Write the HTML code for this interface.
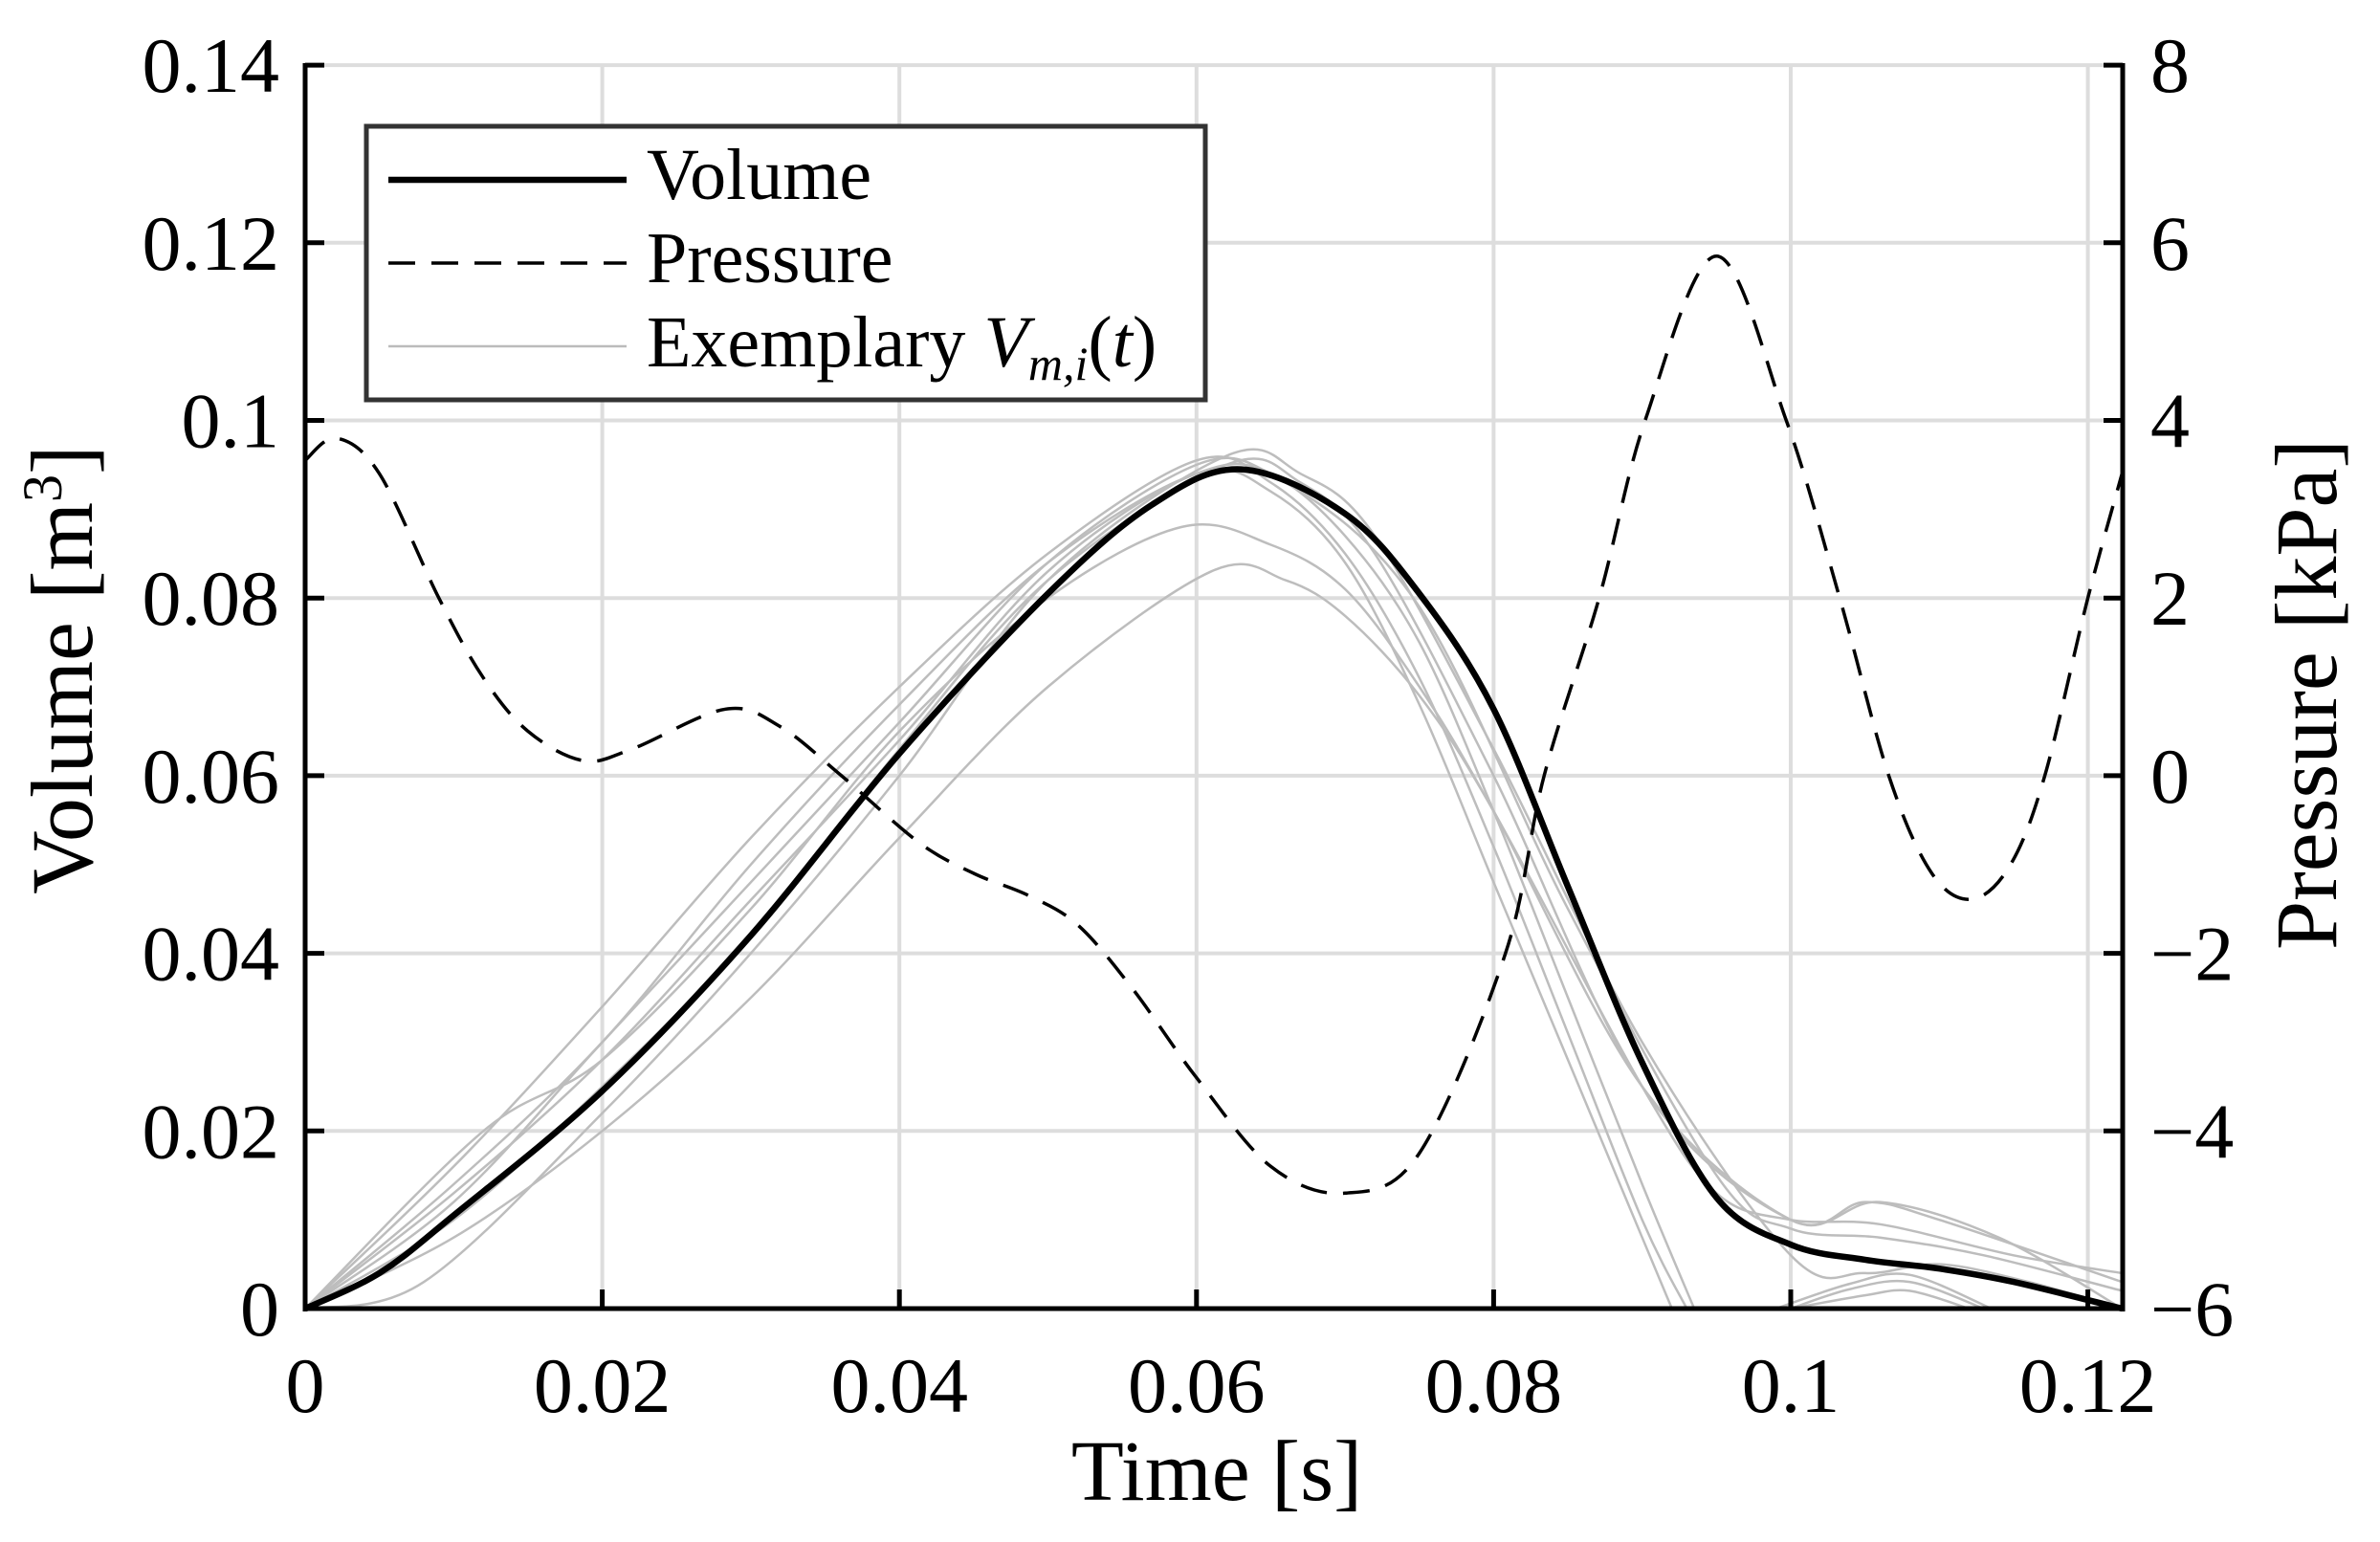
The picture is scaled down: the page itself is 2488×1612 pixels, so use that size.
<!DOCTYPE html>
<html><head><meta charset="utf-8"><style>
html,body{margin:0;padding:0;background:#fff;}
svg{display:block;}
text{font-family:"Liberation Serif",serif;fill:#000;}
</style></head><body>
<svg id="s" width="2488" height="1612" viewBox="0 0 2488 1612" xmlns="http://www.w3.org/2000/svg">
<g id="grid" stroke="#dddddd" stroke-width="4"></g>
<g id="data"></g>
<g id="axes"></g>
<g id="legend">
<rect x="383" y="132" width="877" height="286" fill="#fff" stroke="#333" stroke-width="5"/>
<line x1="406" y1="188" x2="655" y2="188" stroke="#000" stroke-width="6.5"/>
<line x1="406" y1="275" x2="655" y2="275" stroke="#000" stroke-width="3.5" stroke-dasharray="28,17"/>
<line x1="406" y1="362" x2="655" y2="362" stroke="#bbb" stroke-width="2.5"/>
<text x="676" y="208" font-size="76">Volume</text>
<text x="676" y="295" font-size="76">Pressure</text>
<text x="676" y="383" font-size="76">Exemplary <tspan font-style="italic">V</tspan><tspan font-style="italic" font-size="50" dy="14">m,i</tspan><tspan dy="-14">(</tspan><tspan font-style="italic">t</tspan>)</text>
</g>
<text transform="translate(96,700) rotate(-90)" font-size="92" text-anchor="middle">Volume [m<tspan font-size="58" dy="-32">3</tspan><tspan dy="32">]</tspan></text>
<text transform="translate(2442,726) rotate(-90)" font-size="92" text-anchor="middle">Pressure [kPa]</text>
<text x="1272" y="1568" font-size="90" text-anchor="middle">Time [s]</text>
</svg>
<script>
var NS="http://www.w3.org/2000/svg";
function X(t){return 319+t/0.02*310.6;}
function YV(v){return 1368-v/0.02*185.7;}
function YP(p){return 1368-(p+6)/2*185.7;}
function el(p,tag,a){var e=document.createElementNS(NS,tag);for(var k in a)e.setAttribute(k,a[k]);p.appendChild(e);return e;}
function txt(p,x,y,s,anchor,fs){var e=el(p,"text",{x:x,y:y,"text-anchor":anchor,"font-size":fs||82});e.textContent=s;return e;}
var g=document.getElementById("grid"),ax=document.getElementById("axes"),d=document.getElementById("data");
var xl=319,xr=2219,yt=68,yb=1368;
for(var i=0;i<=6;i++){var x=X(i*0.02);el(g,"line",{x1:x,y1:yt,x2:x,y2:yb});}
for(var i=0;i<=7;i++){var y=YV(i*0.02);el(g,"line",{x1:xl,y1:y,x2:xr,y2:y});}
el(ax,"line",{x1:xl,y1:yt-2,x2:xl,y2:yb+3,stroke:"#000","stroke-width":5});
el(ax,"line",{x1:xr,y1:yt-2,x2:xr,y2:yb+3,stroke:"#000","stroke-width":5});
el(ax,"line",{x1:xl-2,y1:yb,x2:xr+2,y2:yb,stroke:"#000","stroke-width":5});
var vl=["0","0.02","0.04","0.06","0.08","0.1","0.12","0.14"];
var pl=["\u22126","\u22124","\u22122","0","2","4","6","8"];
for(var i=0;i<=7;i++){var y=YV(i*0.02);
 el(ax,"line",{x1:xl,y1:y,x2:xl+20,y2:y,stroke:"#000","stroke-width":5});
 el(ax,"line",{x1:xr-20,y1:y,x2:xr,y2:y,stroke:"#000","stroke-width":5});
 txt(ax,292,y+28,vl[i],"end");
 txt(ax,2248,y+28,pl[i],"start");
}
var xlbl=["0","0.02","0.04","0.06","0.08","0.1","0.12"];
for(var i=0;i<=6;i++){var x=X(i*0.02);
 el(ax,"line",{x1:x,y1:yb-20,x2:x,y2:yb,stroke:"#000","stroke-width":5});
 txt(ax,x,1476,xlbl[i],"middle");
}
function cr(pts){
 var s="M"+pts[0][0].toFixed(1)+","+pts[0][1].toFixed(1);
 for(var i=0;i<pts.length-1;i++){
  var p0=pts[i-1]||pts[i],p1=pts[i],p2=pts[i+1],p3=pts[i+2]||pts[i+1];
  var c1x=p1[0]+(p2[0]-p0[0])/6,c1y=p1[1]+(p2[1]-p0[1])/6;
  var c2x=p2[0]-(p3[0]-p1[0])/6,c2y=p2[1]-(p3[1]-p1[1])/6;
  s+=" C"+c1x.toFixed(1)+","+c1y.toFixed(1)+" "+c2x.toFixed(1)+","+c2y.toFixed(1)+" "+p2[0].toFixed(1)+","+p2[1].toFixed(1);
 }
 return s;
}
function pv(a){var r=[];for(var i=0;i<a.length;i+=2)r.push([X(a[i]),YV(a[i+1])]);return r;}
function pp(a){var r=[];for(var i=0;i<a.length;i+=2)r.push([X(a[i]),YP(a[i+1])]);return r;}
var grays=[
[0,0,0.01,0.012,0.02,0.03,0.03,0.048,0.04,0.066,0.05,0.084,0.06,0.095,0.065,0.094,0.07,0.087,0.075,0.075,0.08,0.056,0.085,0.035,0.09,0.014,0.0935,0],
[0,0,0.01,0.016,0.02,0.034,0.03,0.053,0.04,0.07,0.05,0.085,0.06,0.0955,0.065,0.093,0.07,0.085,0.075,0.071,0.08,0.052,0.085,0.031,0.09,0.01,0.093,0],
[0,0,0.012,0.02,0.02,0.028,0.03,0.045,0.04,0.065,0.05,0.08,0.059,0.088,0.065,0.086,0.07,0.081,0.075,0.07,0.08,0.056,0.09,0.025,0.1,0.01,0.105,0.012,0.11,0.01,0.1223,0.003],
[0,0,0.01,0.008,0.02,0.02,0.03,0.035,0.04,0.053,0.05,0.07,0.061,0.083,0.066,0.082,0.07,0.078,0.075,0.069,0.08,0.056,0.09,0.025,0.095,0.013,0.1,0.01,0.106,0.0095,0.115,0.006,0.1223,0.004],
[0,0,0.01,0.01,0.02,0.025,0.03,0.042,0.04,0.063,0.05,0.082,0.062,0.095,0.067,0.093,0.072,0.085,0.08,0.06,0.09,0.025,0.1,0.01,0.106,0.012,0.114,0.008,0.1223,0],
[0,0,0.008,0.003,0.02,0.022,0.03,0.04,0.04,0.06,0.05,0.082,0.062,0.096,0.067,0.094,0.072,0.087,0.08,0.063,0.09,0.03,0.1,0.006,0.105,0.004,0.11,0.005,0.116,0.003,0.1223,0],
[0,0,0.01,0.013,0.02,0.028,0.03,0.046,0.04,0.064,0.05,0.083,0.06,0.094,0.066,0.093,0.075,0.079,0.085,0.045,0.095,0.015,0.1,0.009,0.106,0.008,0.113,0.006,0.1223,0.002],
[0,0,0.01,0.014,0.02,0.03,0.03,0.05,0.04,0.068,0.05,0.084,0.06,0.094,0.065,0.092,0.07,0.084,0.075,0.068,0.08,0.048,0.085,0.028,0.09,0.008,0.092,0],
[0.1,0,0.104,0.0022,0.108,0.003,0.113,0],
[0.099,0,0.104,0.0028,0.108,0.0038,0.1135,0],
[0.1,0,0.105,0.0015,0.108,0.002,0.112,0]
];
grays.forEach(function(a){el(d,"path",{d:cr(pv(a)),fill:"none",stroke:"#bdbdbd","stroke-width":2.5});});
var vol=[0,0,0.005,0.004,0.01,0.0105,0.02,0.0245,0.03,0.042,0.04,0.0625,0.05,0.0805,0.057,0.0905,0.063,0.0945,0.07,0.0895,0.075,0.0805,0.08,0.0675,0.085,0.0475,0.09,0.0277,0.095,0.0125,0.1,0.0072,0.105,0.0055,0.11,0.0045,0.115,0.003,0.1223,0];
el(d,"path",{d:cr(pv(vol)),fill:"none",stroke:"#000","stroke-width":6.5});
var pr=[0,3.55,0.0021,3.8,0.005,3.4,0.009,2.0,0.012,1.1,0.015,0.5,0.0187,0.17,0.022,0.3,0.0283,0.75,0.032,0.55,0.0361,0,0.0413,-0.75,0.045,-1.1,0.0487,-1.35,0.052,-1.68,0.0557,-2.4,0.06,-3.4,0.065,-4.4,0.07,-4.7,0.075,-4.25,0.0808,-2,0.0834,0,0.0871,2,0.0902,4,0.095,5.85,0.0997,4,0.1033,2,0.1066,0,0.1095,-1.1,0.1122,-1.39,0.1148,-1.0,0.1171,0,0.12,2,0.1223,3.4];
el(d,"path",{d:cr(pp(pr)),fill:"none",stroke:"#000","stroke-width":3.5,"stroke-dasharray":"28,17"});
</script>
</body></html>
